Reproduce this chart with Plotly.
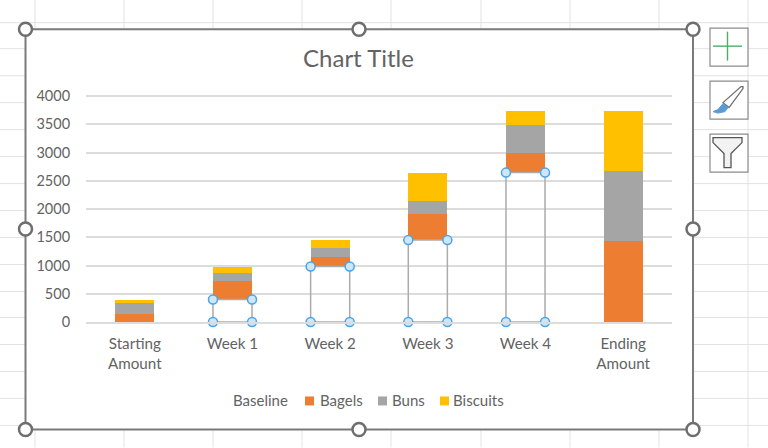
import plotly.graph_objects as go

categories = ["Starting<br>Amount", "Week 1", "Week 2", "Week 3", "Week 4", "Ending<br>Amount"]
baseline = [0, 398, 983, 1450, 2646, 0]
bagels = [150, 324, 164, 470, 342, 1442]
buns = [195, 142, 159, 225, 507, 1239]
biscuits = [48, 118, 154, 495, 248, 1062]
y_ticks = [0, 500, 1000, 1500, 2000, 2500, 3000, 3500, 4000]
legend_names = ["Baseline", "Bagels", "Buns", "Biscuits"]

ORANGE, GREY, GOLD = "#ED7D31", "#A5A5A5", "#FFC000"
TEXT = "#636363"
FONT = "Lato"
L, R, T, B = 86.0, 672.0, 95.37, 322.5
Y_MAX = 4020


def px(x):
    return (x - L) / (R - L)


def py(y):
    return (B - y) / (B - T)


def path(points, close=False):
    s = "M" + " L".join(f"{px(x):.5f},{py(y):.5f}" for x, y in points)
    return s + (" Z" if close else "")


shapes = []


def line(x0, y0, x1, y1, color, width):
    shapes.append(dict(type="line", xref="paper", yref="paper", x0=px(x0), y0=py(y0), x1=px(x1), y1=py(y1),
                       line=dict(color=color, width=width), layer="below"))


def rect(x0, y0, x1, y1, fill, color, width, layer="below"):
    shapes.append(dict(type="rect", xref="paper", yref="paper", x0=px(x0), y0=py(y0), x1=px(x1), y1=py(y1),
                       fillcolor=fill, line=dict(color=color, width=width), layer=layer))


# worksheet cells behind the chart
for vx in [35, 124, 213, 302, 391, 481, 570, 659, 748]:
    line(vx, 0, vx, 448, "#E3E3E3", 1)
for hy in [23, 49, 76, 103, 130, 157, 184, 211, 238, 265, 292, 318, 345, 372, 399, 426]:
    line(0, hy, 768, hy, "#E3E3E3", 1)

# chart frame
rect(25.5, 29.5, 693, 430, "white", "#7A7A7A", 2)

# sizing handles
for hx, hy in [(25.5, 29.5), (359, 29.5), (693, 29.5), (25.5, 229.5), (693, 229.5), (25.5, 430), (359, 430), (693, 430)]:
    shapes.append(dict(type="circle", xref="paper", yref="paper", x0=px(hx - 6.5), x1=px(hx + 6.5),
                       y0=py(hy - 6.5), y1=py(hy + 6.5), fillcolor="white",
                       line=dict(color="#6E6E6E", width=2.5), layer="above"))

# side buttons
for top in [28.5, 81.5, 134.5]:
    rect(710, top, 748, top + 38, "white", "#8C8C8C", 1.2)
line(713, 46.5, 742, 46.5, "#4CAF68", 1.4)
line(727.5, 32, 727.5, 61, "#4CAF68", 1.4)
shapes.append(dict(type="path", xref="paper", yref="paper", layer="below", fillcolor="white",
                   line=dict(color="#6E6E6E", width=1.3),
                   path=path([(723, 103), (741, 87), (743, 87), (743, 89), (729, 108)], True)))
shapes.append(dict(type="path", xref="paper", yref="paper", layer="below", fillcolor="#5B9BD5",
                   line=dict(color="#5B9BD5", width=1),
                   path=path([(723, 104), (728, 108), (725, 112), (718, 113.5), (713, 112), (718, 110)], True)))
shapes.append(dict(type="path", xref="paper", yref="paper", layer="below", fillcolor="#F2F2F2",
                   line=dict(color="#555555", width=1.3),
                   path=path([(713, 138), (742, 138), (742, 143), (731, 154), (731, 168), (724, 168), (724, 154), (713, 143)], True)))

x_pos = list(range(len(categories)))
half = 0.2

fig = go.Figure()
fig.add_bar(x=x_pos, y=baseline, name=legend_names[0], width=0.4, marker=dict(color="rgba(0,0,0,0)", line=dict(width=0)), showlegend=False)
fig.add_bar(x=x_pos, y=bagels, name=legend_names[1], width=0.4, marker=dict(color=ORANGE, line=dict(width=0)), showlegend=False)
fig.add_bar(x=x_pos, y=buns, name=legend_names[2], width=0.4, marker=dict(color=GREY, line=dict(width=0)), showlegend=False)
fig.add_bar(x=x_pos, y=biscuits, name=legend_names[3], width=0.4, marker=dict(color=GOLD, line=dict(width=0)), showlegend=False)

# selected "Baseline" series: outline and handles
out_x, out_y, hx, hy = [], [], [], []
for xp, v in zip(x_pos, baseline):
    if v > 0:
        out_x += [xp - half, xp - half, xp + half, xp + half, xp - half, None]
        out_y += [0, v, v, 0, 0, None]
        hx += [xp - half, xp + half, xp - half, xp + half]
        hy += [0, 0, v, v]
fig.add_scatter(x=out_x, y=out_y, mode="lines", line=dict(color="#ABABAB", width=1.5), showlegend=False, hoverinfo="skip")
fig.add_scatter(x=hx, y=hy, mode="markers", showlegend=False, hoverinfo="skip", cliponaxis=False,
                marker=dict(size=9, color="#CFE6F8", line=dict(color="#4BA3E8", width=1.5)))

annotations = []
for label, tx in zip(legend_names, [231, 318, 390, 451]):
    annotations.append(dict(xref="paper", yref="paper", x=px(tx), y=py(401), text=label, showarrow=False,
                            xanchor="left", yanchor="middle", font=dict(family=FONT, size=15, color=TEXT)))
for sx, c in zip([305, 378, 440], [ORANGE, GREY, GOLD]):
    rect(sx, 397, sx + 9, 406, c, c, 0)

fig.update_layout(
    width=768, height=448, autosize=False, barmode="stack", showlegend=False,
    margin=dict(l=L, r=768 - R, t=T, b=448 - B),
    paper_bgcolor="white", plot_bgcolor="rgba(0,0,0,0)",
    font=dict(family=FONT, size=15.2, color=TEXT),
    title=dict(text="Chart Title", x=px(358.5), xref="paper", xanchor="center", y=1 - 59 / 448, yanchor="middle",
               font=dict(family=FONT, size=24, color=TEXT)),
    shapes=shapes, annotations=annotations,
    xaxis=dict(range=[-0.5, 5.5], tickvals=x_pos, ticktext=categories, showgrid=False, zeroline=False,
               ticks="outside", ticklen=7, tickcolor="rgba(0,0,0,0)", showline=True, linecolor="#DCDCDC", linewidth=1.5),
    yaxis=dict(range=[0, Y_MAX], tickvals=y_ticks, showgrid=True, gridcolor="#DCDCDC", gridwidth=1.5, zeroline=False,
               ticks="outside", ticklen=12, tickcolor="rgba(0,0,0,0)", tickfont=dict(size=14.5)),
)
fig.write_html("out.html", config=dict(displayModeBar=False), post_script="document.body.style.margin='0';")
